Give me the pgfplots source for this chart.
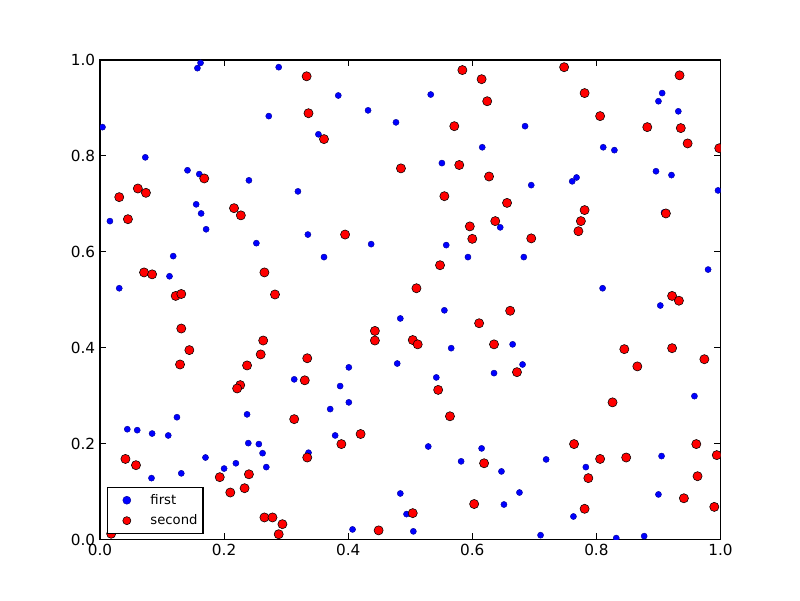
\documentclass[border=0pt]{standalone}
\usepackage{fontspec}
\setmainfont{DejaVu Sans}
\usepackage{pgfplots}
\pgfplotsset{compat=1.18}
\begin{document}
\begin{tikzpicture}
\useasboundingbox (0,0) rectangle (576pt,432pt);
\begin{axis}[
  at={(72pt,43.56pt)}, anchor=south west,
  scale only axis, width=446.76pt, height=345.24pt,
  xmin=0, xmax=1, ymin=0, ymax=1,
  xtick={0,0.2,0.4,0.6,0.8,1}, ytick={0,0.2,0.4,0.6,0.8,1},
  xticklabels={0.0,0.2,0.4,0.6,0.8,1.0},
  yticklabels={0.0,0.2,0.4,0.6,0.8,1.0},
  tick label style={font=\fontsize{11}{13}\selectfont},
  major tick length=4.5pt,
  axis line style={line width=0.8pt},
  every tick/.style={black, line width=0.6pt},
  clip marker paths=true,
  legend cell align=left,
  legend style={at={(0.011,0.011)}, anchor=south west, draw=black, line width=0.8pt,
    font=\fontsize{9.5}{11}\selectfont, inner xsep=2pt, inner ysep=3pt, row sep=2pt},
]
\addplot[only marks, mark=*, mark size=2.2pt,
  mark options={fill=blue, draw=blue!60!black, line width=0.3pt},
  legend image code/.code={\path[draw=none] (0pt,0pt) -- (27pt,0pt); \path[fill=blue, draw=blue!60!black, line width=0.3pt] (12pt,0pt) circle (2.9pt);}]
table {
x y
0.004 0.860
0.157 0.983
0.162 0.994
0.288 0.985
0.272 0.883
0.073 0.797
0.141 0.770
0.160 0.762
0.240 0.749
0.319 0.726
0.155 0.699
0.163 0.680
0.016 0.664
0.171 0.647
0.335 0.636
0.252 0.618
0.118 0.591
0.112 0.549
0.031 0.524
0.313 0.334
0.237 0.261
0.124 0.255
0.044 0.230
0.060 0.228
0.084 0.221
0.110 0.217
0.239 0.201
0.256 0.199
0.262 0.180
0.170 0.171
0.219 0.159
0.200 0.148
0.268 0.151
0.083 0.128
0.131 0.138
0.336 0.181
0.384 0.926
0.432 0.895
0.477 0.870
0.533 0.928
0.352 0.845
0.616 0.818
0.551 0.785
0.645 0.651
0.437 0.616
0.558 0.614
0.361 0.589
0.593 0.589
0.906 0.931
0.900 0.914
0.932 0.893
0.685 0.862
0.811 0.818
0.829 0.812
0.896 0.768
0.921 0.760
0.996 0.728
0.695 0.739
0.768 0.755
0.761 0.747
0.909 0.682
0.683 0.589
0.810 0.524
0.980 0.563
0.903 0.488
0.665 0.407
0.681 0.365
0.958 0.299
0.719 0.167
0.905 0.174
0.783 0.151
0.676 0.098
0.900 0.094
0.763 0.048
0.710 0.009
0.832 0.003
0.877 0.007
0.555 0.478
0.484 0.461
0.566 0.399
0.479 0.367
0.401 0.359
0.635 0.347
0.542 0.338
0.387 0.320
0.401 0.286
0.371 0.272
0.379 0.217
0.529 0.194
0.615 0.190
0.582 0.163
0.647 0.142
0.484 0.096
0.651 0.073
0.494 0.053
0.407 0.021
0.505 0.017
};
\addlegendentry{first}
\addplot[only marks, mark=*, mark size=3.3pt,
  mark options={fill=red, draw=black, line width=0.4pt},
  legend image code/.code={\path[draw=none] (0pt,0pt) -- (27pt,0pt); \path[fill=red, draw=black, line width=0.4pt] (12pt,0pt) circle (2.9pt);}]
table {
x y
0.333 0.966
0.336 0.889
0.168 0.753
0.061 0.732
0.074 0.723
0.031 0.714
0.216 0.691
0.227 0.676
0.045 0.668
0.071 0.557
0.084 0.553
0.265 0.557
0.122 0.508
0.131 0.512
0.282 0.511
0.131 0.440
0.144 0.395
0.129 0.365
0.263 0.415
0.259 0.386
0.237 0.363
0.330 0.332
0.334 0.378
0.226 0.322
0.221 0.315
0.313 0.251
0.041 0.168
0.058 0.155
0.193 0.130
0.240 0.136
0.233 0.107
0.210 0.098
0.334 0.171
0.265 0.046
0.278 0.046
0.294 0.032
0.288 0.011
0.018 0.012
0.584 0.979
0.615 0.960
0.624 0.914
0.571 0.862
0.361 0.835
0.485 0.774
0.579 0.781
0.627 0.757
0.555 0.716
0.656 0.702
0.637 0.664
0.596 0.653
0.600 0.627
0.395 0.636
0.548 0.572
0.510 0.524
0.748 0.985
0.934 0.968
0.781 0.931
0.806 0.883
0.882 0.860
0.936 0.858
0.947 0.826
0.998 0.816
0.781 0.687
0.775 0.664
0.771 0.643
0.912 0.680
0.695 0.628
0.922 0.508
0.933 0.498
0.661 0.477
0.672 0.349
0.845 0.397
0.922 0.399
0.974 0.376
0.866 0.361
0.826 0.286
0.764 0.199
0.961 0.199
0.994 0.176
0.806 0.168
0.848 0.171
0.787 0.128
0.963 0.132
0.941 0.086
0.990 0.068
0.781 0.064
0.611 0.451
0.443 0.435
0.443 0.415
0.504 0.416
0.512 0.407
0.635 0.407
0.545 0.312
0.564 0.257
0.420 0.220
0.389 0.199
0.619 0.159
0.603 0.074
0.504 0.055
0.449 0.019
};
\addlegendentry{second}
\end{axis}
\end{tikzpicture}
\end{document}
